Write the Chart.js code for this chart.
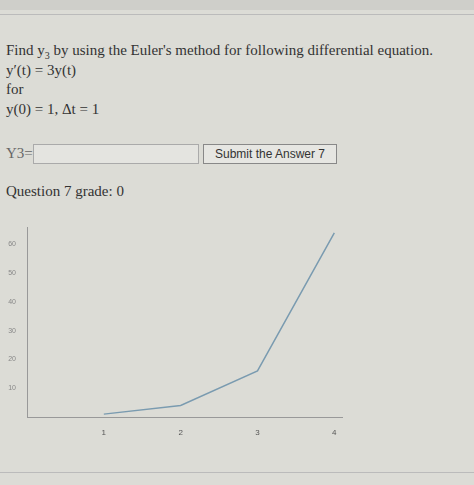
<!DOCTYPE html>
<html><head><meta charset="utf-8">
<script src="https://cdn.jsdelivr.net/npm/chart.js@4"></script>
<style>
body{margin:0;width:474px;height:485px;background:#dcdcd6;font-family:"Liberation Serif",serif;color:#333;position:relative;overflow:hidden}
.t{position:absolute;font-size:15px;white-space:nowrap}
#wrap{position:absolute;left:0;top:220px;width:350px;height:217px}
</style></head><body>
<div style="position:absolute;left:0;top:0;width:474px;height:10px;background:#cfcfca"></div>
<div style="position:absolute;left:0;top:14px;width:474px;height:1px;background:#bbb"></div>
<div class="t" style="left:6px;top:42px">Find y<sub style="font-size:10px">3</sub> by using the Euler's method for following differential equation.</div>
<div class="t" style="left:6px;top:62px">y′(t) = 3y(t)</div>
<div class="t" style="left:6px;top:81px">for</div>
<div class="t" style="left:6px;top:101px">y(0) = 1, Δt = 1</div>
<div class="t" style="left:6px;top:145px;color:#666">Y3=</div>
<div style="position:absolute;left:33px;top:144px;width:164px;height:18px;border:1px solid #aaa;background:#e4e4e0"></div>
<div style="position:absolute;left:203px;top:144px;width:132px;height:18px;border:1px solid #888;background:#e6e6e2;font:12px 'Liberation Sans',sans-serif;text-align:center;line-height:18px">Submit the Answer 7</div>
<div class="t" style="left:6px;top:183px">Question 7 grade: 0</div>
<div style="position:absolute;left:0;top:472px;width:474px;height:1px;background:#bbb"></div>
<div id="wrap"><canvas id="c"></canvas></div>
<script>
const xs = [1, 2, 3, 4];
const ys = [1, 4, 16, 64];
const yTicks = [10, 20, 30, 40, 50, 60];
const xTicks = [1, 2, 3, 4];

new Chart(document.getElementById('c'), {
  type: 'line',
  data: { datasets: [{ data: xs.map((x, i) => ({x: x, y: ys[i]})), borderColor: '#7a9bb0', borderWidth: 1.5, pointRadius: 0, fill: false, tension: 0 }] },
  options: {
    responsive: true, maintainAspectRatio: false, animation: false,
    layout: { padding: { top: 6, right: 8 } },
    plugins: { legend: { display: false }, tooltip: { enabled: false } },
    scales: {
      x: { type: 'linear', min: 0, max: 4.1, afterFit: s => { s.height = 20; },
        afterBuildTicks: s => { s.ticks = xTicks.map(v => ({value: v})); },
        grid: { display: false, drawTicks: true }, border: { color: '#999' },
        ticks: { color: '#555', font: { size: 8, family: 'Liberation Sans' } } },
      y: { min: 0, max: 66, afterFit: s => { s.width = 27; },
        afterBuildTicks: s => { s.ticks = yTicks.map(v => ({value: v})); },
        grid: { display: false }, border: { color: '#999' },
        ticks: { color: '#888', font: { size: 7, family: 'Liberation Sans' } } }
    }
  }
});
</script>
</body></html>
